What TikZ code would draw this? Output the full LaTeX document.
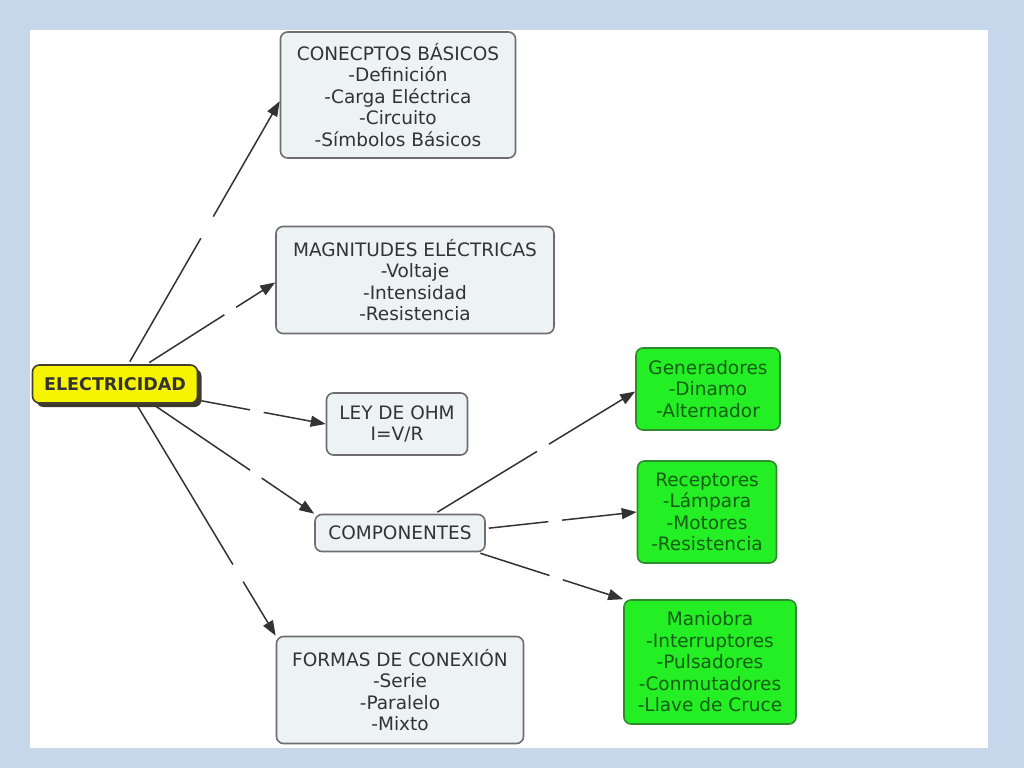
\documentclass[tikz,border=0pt]{standalone}
\usepackage{fontspec}
\setmainfont{DejaVu Sans}
\usetikzlibrary{arrows.meta,shadows}
\definecolor{bgblue}{HTML}{C6D7EC}
\definecolor{boxfill}{HTML}{EDF2F5}
\definecolor{boxline}{HTML}{6E6E6E}
\definecolor{txtgray}{HTML}{333333}
\definecolor{elecfill}{HTML}{F6F400}
\definecolor{greenfill}{HTML}{24EE24}
\definecolor{greenline}{HTML}{2E8B2E}
\definecolor{greentxt}{HTML}{155E15}
\tikzset{
  box/.style={draw=boxline, line width=1.6pt, rounded corners=7pt, fill=boxfill,
    text=txtgray, align=center, inner sep=4pt,
    font=\fontsize{18.5}{21.5}\selectfont},
  greenbox/.style={box, draw=greenline, fill=greenfill, text=greentxt},
  conn/.style={draw=txtgray, line width=1.5pt, shorten <=3pt,
    -{Triangle[length=15pt,width=11pt]}},
  gap/.style={fill=white, circle, inner sep=0pt, minimum size=14pt}
}
\begin{document}
\begin{tikzpicture}[x=1pt,y=-1pt]
  \useasboundingbox (0,0) rectangle (1024,768);
  \fill[bgblue] (0,0) rectangle (1024,768);
  \fill[white] (30,30) rectangle (988,748);

  \node[box, draw=black!70!olive, fill=elecfill, minimum width=165, minimum height=38,
    font=\fontsize{17.5}{21}\selectfont\bfseries,
    drop shadow={shadow xshift=4pt, shadow yshift=-4pt, fill=black!75!olive, opacity=1}]
    (elec) at (115,384) {ELECTRICIDAD};

  \node[box, minimum width=235, minimum height=126] (basicos) at (398,95)
    {CONECPTOS BÁSICOS\\-Definición\\-Carga Eléctrica\\-Circuito\\-Símbolos Básicos};
  \node[box, minimum width=278, minimum height=107] (magnitudes) at (415,280)
    {MAGNITUDES ELÉCTRICAS\\-Voltaje\\-Intensidad\\-Resistencia};
  \node[box, minimum width=141, minimum height=62] (ohm) at (397,424)
    {LEY DE OHM\\I=V/R};
  \node[box, minimum width=170, minimum height=37] (comp) at (400,533)
    {COMPONENTES};
  \node[box, minimum width=247, minimum height=107] (formas) at (400,690)
    {FORMAS DE CONEXIÓN\\-Serie\\-Paralelo\\-Mixto};

  \node[greenbox, minimum width=144, minimum height=82] (gen) at (708,389)
    {Generadores\\-Dinamo\\-Alternador};
  \node[greenbox, minimum width=139, minimum height=102] (rec) at (707,512)
    {Receptores\\-Lámpara\\-Motores\\-Resistencia};
  \node[greenbox, minimum width=172, minimum height=124] (man) at (710,662)
    {Maniobra\\-Interruptores\\-Pulsadores\\-Conmutadores\\-Llave de Cruce};

  % enlaces
  \draw[conn] (elec.56) -- node[gap, pos=.52, minimum size=25pt]{} (basicos.183);
  \draw[conn] (elec.32) -- node[gap, pos=.65]{} (magnitudes.181);
  \draw[conn] (elec.-11) -- node[gap, pos=.46]{} (ohm.west);
  \draw[conn] (elec.-28) -- node[gap, pos=.64]{} (comp.north west);
  \draw[conn] (elec.-43) -- node[gap, pos=.73, minimum size=20pt]{} (formas.north west);
  \draw[conn] (comp.29) -- node[gap, pos=.54]{} (gen.182);
  \draw[conn] (comp.3) -- node[gap, pos=.46]{} (rec.west);
  \draw[conn] (comp.-14) -- node[gap, pos=.54]{} (man.north west);
\end{tikzpicture}
\end{document}
